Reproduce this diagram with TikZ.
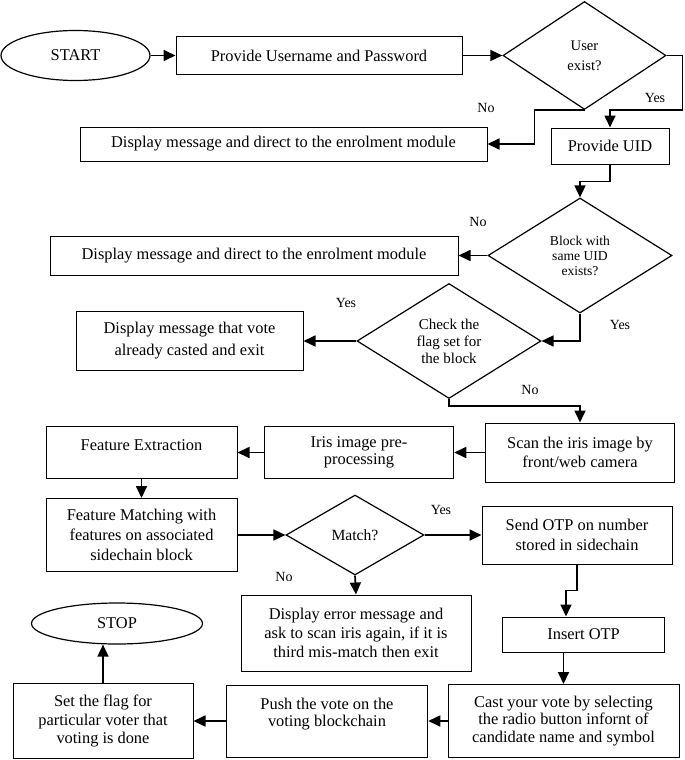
\documentclass[tikz,border=0pt]{standalone}
\usepackage{fontspec}
\setmainfont{Liberation Serif}
\usetikzlibrary{shapes.geometric,arrows.meta,calc}
\begin{document}
\begin{tikzpicture}[x=1pt,y=-1pt,
  box/.style={draw, line width=1pt, rectangle, inner sep=0pt, align=center, font=\fontsize{16.4}{19}\selectfont},
  ell/.style={draw, line width=1.2pt, ellipse, inner sep=0pt, font=\fontsize{16.4}{19}\selectfont},
  dia/.style={draw, line width=1.2pt, diamond, inner sep=0pt, align=center},
  arr/.style={line width=1.7pt, -{Triangle[length=12pt,width=11pt]}},
  lbl/.style={font=\fontsize{14}{16}\selectfont, inner sep=0pt}]
\useasboundingbox (0,0) rectangle (685,760);

% row 1
\node[ell, minimum width=149pt, minimum height=50pt] (start) at (75.5,55.5) {START};
\node[box, minimum width=286pt, minimum height=38pt] (pup) at (319,55.5) {Provide Username and Password};
\node[dia, minimum width=163pt, minimum height=108pt, aspect=1.5, font=\fontsize{14.6}{20}\selectfont] (d1) at (584.5,55.5) {User\\exist?};
\node[box, minimum width=407pt, minimum height=34pt] (disp1) at (283.5,144) {Display message and direct to the enrolment module};
\node[box, minimum width=118pt, minimum height=36pt] (uid) at (610,146) {Provide UID};

% row 2
\node[dia, minimum width=184pt, minimum height=115pt, aspect=1.6, font=\fontsize{13.6}{15}\selectfont] (d2) at (580,255.5) {Block with\\same UID\\exists?};
\node[box, minimum width=408pt, minimum height=39pt] (disp2) at (254,255.5) {Display message and direct to the enrolment module};
\node[dia, minimum width=184pt, minimum height=115pt, aspect=1.6, font=\fontsize{15}{17}\selectfont] (d3) at (449,341) {Check the\\flag set for\\the block};
\node[box, minimum width=227pt, minimum height=59pt, font=\fontsize{16.4}{22}\selectfont] (disp3) at (189.5,341) {Display message that vote\\already casted and exit};

% row 3
\node[box, minimum width=189.5pt, minimum height=59pt] (scan) at (580,452.5) {Scan the iris image by\\front/web camera};
\node[box, minimum width=189.5pt, minimum height=52pt, font=\fontsize{16.4}{17}\selectfont] (iris) at (359,452.5) {Iris image pre-\\processing};
\node[box, minimum width=191pt, minimum height=52pt, font=\fontsize{16.4}{15}\selectfont] (fe) at (141.5,452.5) {Feature Extraction\\\mbox{}};

% row 4
\node[box, minimum width=191pt, minimum height=73pt, font=\fontsize{16.4}{20}\selectfont] (fm) at (141.5,535) {Feature Matching with\\features on associated\\sidechain block};
\node[dia, minimum width=138pt, minimum height=80pt, aspect=1.7, font=\fontsize{15.6}{17}\selectfont] (match) at (355,535) {Match?};
\node[box, minimum width=190pt, minimum height=58pt, font=\fontsize{16.4}{20}\selectfont] (send) at (577,535) {Send OTP on number\\stored in sidechain};

% row 5
\node[box, minimum width=230pt, minimum height=76pt] (err) at (356,633) {Display error message and\\ask to scan iris again, if it is\\third mis-match then exit};
\node[box, minimum width=162pt, minimum height=35pt] (insert) at (583.6,634.5) {Insert OTP};
\node[ell, minimum width=171pt, minimum height=41pt] (stop) at (117,623.5) {STOP};

% row 6
\node[box, minimum width=231pt, minimum height=73pt, font=\fontsize{16.4}{17.5}\selectfont] (cast) at (563.5,721) {Cast your vote by selecting\\the radio button infornt of\\candidate name and symbol};
\node[box, minimum width=201.5pt, minimum height=72pt, font=\fontsize{16.4}{17}\selectfont] (push) at (327,721) {Push the vote on the\\voting blockchain\\\mbox{}};
\node[box, minimum width=180pt, minimum height=75pt, font=\fontsize{16.4}{18.5}\selectfont] (set) at (103,721) {Set the flag for\\particular voter that\\voting is done};

% labels
\node[lbl] (l1) at (486,108) {No};
\node[lbl] (l2) at (655,98) {Yes};
\node[lbl] (l3) at (478,222) {No};
\node[lbl] (l4) at (620,325) {Yes};
\node[lbl] (l5) at (346,303) {Yes};
\node[lbl] (l6) at (530,390) {No};
\node[lbl] (l7) at (441,510) {Yes};
\node[lbl] (l8) at (284,577) {No};

% connectors
\draw[arr] (start.east) -- (pup.west);
\draw[arr] (pup.east) -- (d1.west);
\draw[arr] (d1.south) -- ++(-50,0) |- (disp1.east);
\draw[arr] (d1.east) -- ++(16,0) |- (d1.south -| uid.north) -- (uid.north);
\draw[arr] (uid.south) -- ++(0,17) -| (d2.north);
\draw[arr] (d2.west) -- (disp2.east);
\draw[arr] (d2.south) |- (d3.east);
\draw[arr] (d3.west) -- (disp3.east);
\draw[arr] (d3.south) -- ++(0,7) -| (scan.north);
\draw[arr] (scan.west) -- (iris.east);
\draw[arr] (iris.west) -- (fe.east);
\draw[arr] (fe.south) -- (fm.north);
\draw[arr] (fm.east) -- (match.west);
\draw[arr] (match.east) -- (send.west);
\draw[arr] (match.south) -- (err.north);
\draw[arr] (send.south) -- ++(0,26) -| ([xshift=-17.6pt]insert.north);
\draw[arr] (insert.south -| cast.north) -- (cast.north);
\draw[arr] (cast.west) -- (push.east);
\draw[arr] (push.west) -- (set.east);
\draw[arr] (set.north) -- (set.north |- stop.south);
\end{tikzpicture}
\end{document}
